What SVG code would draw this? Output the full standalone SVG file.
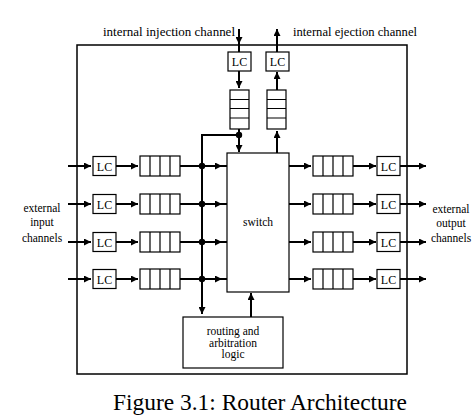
<svg xmlns="http://www.w3.org/2000/svg" width="474" height="415" viewBox="0 0 474 415">
<defs>
<style>
.box{fill:#fff;stroke:#000;stroke-width:1.2}
.ln{fill:none;stroke:#000;stroke-width:2}
.t{font-family:"Liberation Serif",serif;fill:#000}
.lc{font-family:"Liberation Serif",serif;font-size:12px;text-anchor:middle;fill:#000}
.lab{font-family:"Liberation Serif",serif;font-size:11.5px;fill:#000}
.cl{font-family:"Liberation Serif",serif;font-size:11.5px;text-anchor:middle;fill:#000}
</style>
<marker id="ah" viewBox="0 0 10 10" refX="10" refY="5" markerWidth="3.5" markerHeight="3.5" orient="auto" markerUnits="strokeWidth">
<path d="M0,0L10,5L0,10z" fill="#000"/>
</marker>
<g id="queueH">
<rect class="box" x="0" y="0" width="40" height="20"/>
<path d="M10,0V20M20,0V20M30,0V20" stroke="#000" stroke-width="1.2"/>
</g>
<g id="lcbox">
<rect class="box" x="0" y="0" width="23" height="19"/>
<text class="lc" x="11.5" y="14">LC</text>
</g>
</defs>
<rect width="474" height="415" fill="#fff"/>

<g id="router-outline">
<rect x="77" y="45" width="330" height="329" fill="none" stroke="#000" stroke-width="1.5"/>
</g>

<g id="connectors">
<!-- injection -->
<path class="ln" d="M239,29V44" marker-end="url(#ah)"/>
<path class="ln" d="M239,44V53"/>
<path class="ln" d="M239,69V88" marker-end="url(#ah)"/>
<path class="ln" d="M239,129V152" marker-end="url(#ah)"/>
<path class="ln" d="M239,135H202V314" marker-end="url(#ah)"/>
<!-- ejection -->
<path class="ln" d="M277,153V131" marker-end="url(#ah)"/>
<path class="ln" d="M277,90V72" marker-end="url(#ah)"/>
<path class="ln" d="M277,53V29" marker-end="url(#ah)"/>
<!-- routing to switch -->
<path class="ln" d="M251,317V293" marker-end="url(#ah)"/>
<!-- input rows -->
<g id="in-rows">
<path class="ln" d="M68,166H91" marker-end="url(#ah)"/>
<path class="ln" d="M116,166H138" marker-end="url(#ah)"/>
<path class="ln" d="M180,166H222" marker-end="url(#ah)"/>
<path class="ln" d="M222,166H227"/>
<path class="ln" d="M68,204H91" marker-end="url(#ah)"/>
<path class="ln" d="M116,204H138" marker-end="url(#ah)"/>
<path class="ln" d="M180,204H222" marker-end="url(#ah)"/>
<path class="ln" d="M222,204H227"/>
<path class="ln" d="M68,242H91" marker-end="url(#ah)"/>
<path class="ln" d="M116,242H138" marker-end="url(#ah)"/>
<path class="ln" d="M180,242H222" marker-end="url(#ah)"/>
<path class="ln" d="M222,242H227"/>
<path class="ln" d="M68,279H91" marker-end="url(#ah)"/>
<path class="ln" d="M116,279H138" marker-end="url(#ah)"/>
<path class="ln" d="M180,279H222" marker-end="url(#ah)"/>
<path class="ln" d="M222,279H227"/>
</g>
<g id="out-rows">
<path class="ln" d="M289,166H311" marker-end="url(#ah)"/>
<path class="ln" d="M353,166H376" marker-end="url(#ah)"/>
<path class="ln" d="M400,166H426" marker-end="url(#ah)"/>
<path class="ln" d="M289,204H311" marker-end="url(#ah)"/>
<path class="ln" d="M353,204H376" marker-end="url(#ah)"/>
<path class="ln" d="M400,204H426" marker-end="url(#ah)"/>
<path class="ln" d="M289,242H311" marker-end="url(#ah)"/>
<path class="ln" d="M353,242H376" marker-end="url(#ah)"/>
<path class="ln" d="M400,242H426" marker-end="url(#ah)"/>
<path class="ln" d="M289,279H311" marker-end="url(#ah)"/>
<path class="ln" d="M353,279H376" marker-end="url(#ah)"/>
<path class="ln" d="M400,279H426" marker-end="url(#ah)"/>
</g>
<g id="junctions" fill="#000">
<circle cx="239" cy="135" r="3.2"/>
<circle cx="202" cy="166" r="3.2"/>
<circle cx="202" cy="204" r="3.2"/>
<circle cx="202" cy="242" r="3.2"/>
<circle cx="202" cy="279" r="3.2"/>
</g>
</g>

<g id="inj-lc"><use href="#lcbox" x="228" y="52"/></g>
<g id="ej-lc"><use href="#lcbox" x="266" y="52"/></g>
<g id="inj-queue">
<rect class="box" x="230" y="90" width="19" height="39"/>
<path d="M230,99.5H249M230,108.5H249M230,118H249" stroke="#000" stroke-width="1.2"/>
</g>
<g id="ej-queue">
<rect class="box" x="267" y="90" width="19" height="39"/>
<path d="M267,99.5H286M267,108.5H286M267,118H286" stroke="#000" stroke-width="1.2"/>
</g>

<g id="in-lc1"><use href="#lcbox" x="93" y="156.5"/></g>
<g id="in-lc2"><use href="#lcbox" x="93" y="194.5"/></g>
<g id="in-lc3"><use href="#lcbox" x="93" y="232.5"/></g>
<g id="in-lc4"><use href="#lcbox" x="93" y="269.5"/></g>
<g id="in-q1"><use href="#queueH" x="140" y="156"/></g>
<g id="in-q2"><use href="#queueH" x="140" y="194"/></g>
<g id="in-q3"><use href="#queueH" x="140" y="232"/></g>
<g id="in-q4"><use href="#queueH" x="140" y="269"/></g>

<g id="out-q1"><use href="#queueH" x="313" y="156"/></g>
<g id="out-q2"><use href="#queueH" x="313" y="194"/></g>
<g id="out-q3"><use href="#queueH" x="313" y="232"/></g>
<g id="out-q4"><use href="#queueH" x="313" y="269"/></g>
<g id="out-lc1"><use href="#lcbox" x="377" y="156.5"/></g>
<g id="out-lc2"><use href="#lcbox" x="377" y="194.5"/></g>
<g id="out-lc3"><use href="#lcbox" x="377" y="232.5"/></g>
<g id="out-lc4"><use href="#lcbox" x="377" y="269.5"/></g>

<g id="switch">
<rect class="box" x="227" y="153" width="62" height="139"/>
<text class="cl" x="258" y="226">switch</text>
</g>

<g id="routing">
<rect class="box" x="183" y="317" width="100" height="51"/>
<text class="cl" x="233" y="335">routing and</text>
<text class="cl" x="233" y="346.5">arbitration</text>
<text class="cl" x="233" y="358">logic</text>
</g>

<g id="labels">
<text class="lab" x="103" y="36" textLength="132" lengthAdjust="spacingAndGlyphs">internal injection channel</text>
<text class="lab" x="293" y="36" textLength="124" lengthAdjust="spacingAndGlyphs">internal ejection channel</text>
<text class="cl" x="42" y="212">external</text>
<text class="cl" x="42" y="226">input</text>
<text class="cl" x="42" y="242">channels</text>
<text class="cl" x="451" y="213">external</text>
<text class="cl" x="451" y="227">output</text>
<text class="cl" x="451" y="242">channels</text>
<text class="t" x="113" y="410" font-size="22.5" textLength="294" lengthAdjust="spacingAndGlyphs">Figure 3.1: Router Architecture</text>
</g>
</svg>
